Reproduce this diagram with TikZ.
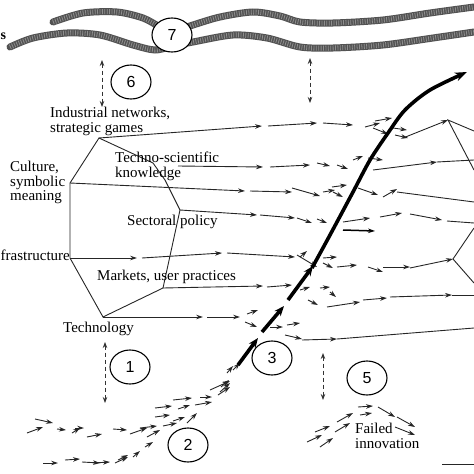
\documentclass[tikz,border=0pt]{standalone}
\usepackage{fontspec}
\setmainfont{Liberation Serif}
\newfontfamily\numfont{Liberation Sans}
\usetikzlibrary{arrows.meta,shapes.geometric}
\begin{document}
\begin{tikzpicture}[x=1pt,y=-1pt,
  tip/.style={-{Stealth[length=7pt,width=4.6pt]}},
  fl/.style={line width=0.9pt, black!85},
  band/.style={line width=7pt, black!68, line cap=round},
  bandtex/.style={line width=5pt, white, opacity=0.35, dash pattern=on 0.8pt off 1.6pt},
  num/.style={ellipse, draw, line width=1.1pt, fill=white, minimum width=40pt, minimum height=34pt, inner sep=0pt, font=\numfont\fontsize{16}{16}\selectfont},
  lbl/.style={inner sep=0pt, align=left, font=\fontsize{15}{14.6}\selectfont},
  dbl/.style={line width=0.9pt, black!80, dash pattern=on 4pt off 3pt, {Stealth[length=6pt,width=4.5pt]}-{Stealth[length=6pt,width=4.5pt]}},
  mainseg/.style={line width=3.6pt, -{Stealth[length=10pt,width=8pt]}},
  poly/.style={line width=0.9pt, black!85}
]
\useasboundingbox (0,0) rectangle (474,474);

% wavy bands
\foreach \st in {band,bandtex}{
\draw[\st] plot[smooth] coordinates {(53,22) (83,13) (117,12) (143,18) (160,27) (172,32)};
\draw[\st] plot[smooth] coordinates {(172,32) (193,25) (220,17) (253,12) (280,16) (300,22) (333,23) (383,20) (430,13) (474,7)};
\draw[\st] plot[smooth] coordinates {(10,47) (33,38) (67,33) (100,35) (133,45) (155,50) (172,46)};
\draw[\st] plot[smooth] coordinates {(172,46) (193,42) (233,35) (267,38) (300,47) (333,48) (383,45) (433,38) (474,32)};
}
\node[inner sep=0pt, anchor=base west, font=\bfseries\fontsize{14}{14}\selectfont] (s) at (0.5,39) {s};

% circles
\node[num] (n7) at (172,35) {7};
\node[num] (n6) at (131,82) {6};
\node[num] (n1) at (130,367) {1};
\node[num] (n2) at (188,445) {2};
\node[num] (n3) at (272,358) {3};
\node[num] (n5) at (367,378) {5};

% dashed double arrows
\coordinate (d1a) at (102,60); \coordinate (d1b) at (102,107);
\coordinate (d2a) at (310,58); \coordinate (d2b) at (310,103);
\coordinate (d3a) at (105,342); \coordinate (d3b) at (105,403);
\coordinate (d4a) at (323,353); \coordinate (d4b) at (323,400);
\draw[dbl] (d1a) -- (d1b);
\draw[dbl] (d2a) -- (d2b);
\draw[dbl] (d3a) -- (d3b);
\draw[dbl] (d4a) -- (d4b);

% left polygon
\coordinate (A) at (99,138);
\coordinate (B) at (70,183);
\coordinate (C) at (70,258);
\coordinate (D) at (103,317);
\coordinate (E) at (163,288);
\coordinate (F) at (180,210);
\coordinate (G1) at (165,180);
\coordinate (G2) at (153,163);
\draw[poly] (A) -- (B) -- (C) -- (D) -- (E) -- (F) -- (G1) -- (G2) -- cycle;

% right polygon (partly visible)
\coordinate (P1) at (448,120);
\coordinate (P2) at (453,259);
\draw[poly] (474,131) -- (P1) -- (474,170);
\draw[poly] (474,228) -- (P2) -- (474,283);

% labels
\node[lbl, anchor=north west] (t1) at (50,107) {Industrial networks,\\strategic games};
\node[lbl, anchor=north west] (t2) at (10,161) {Culture,\\symbolic\\meaning};
\node[lbl, anchor=north west] (t3) at (115,152) {Techno-scientific\\knowledge};
\node[lbl, anchor=north west] (t4) at (127,215) {Sectoral policy};
\node[lbl, anchor=north west] (t5) at (0.5,250) {frastructure};
\node[lbl, anchor=north west] (t6) at (97,270) {Markets, user practices};
\node[lbl, anchor=north west] (t7) at (63,322) {Technology};
\node[lbl, anchor=north west] (t8) at (355,423) {Failed\\innovation};

% flow lines: segments with arrowheads
\draw[fl,tip] (A) -- (262,126);
\foreach \a/\b/\c/\d in {
  268/126/317/123, 323/123/353/125, 365/127/380/123, 375/121/392/118,
  373/128/388/134, 393/128/407/130, 395/135/408/138,
  178/166/263/167, 270/167/310/165, 317/163/330/166, 337/165/348/169,
  353/160/363/156, 368/158/383/160, 373/170/437/162,
  250/191/292/192, 292/188/320/196, 323/192/335/190, 332/187/347/185,
  333/192/343/197, 358/188/378/195, 383/197/397/189,
  260/215/295/218, 297/218/312/223, 317/219/327/223, 343/222/370/218,
  380/217/402/213, 410/214/442/220,
  142/258/222/253, 227/253/295/257, 297/255/317/267, 300/257/307/251,
  323/258/337/257, 323/263/333/268, 337/267/357/265, 368/267/383/272,
  383/267/410/267,
  267/287/292/285, 300/290/310/287, 320/288/330/287, 330/292/336/297,
  308/300/318/305, 327/307/360/302, 363/300/387/298, 390/297/452/295,
  207/317/240/317, 247/314/258/310, 245/322/257/327, 270/327/283/327,
  287/325/300/323, 285/335/302/339, 302/340/337/339}
  \draw[fl,tip] (\a,\b) -- (\c,\d);
\draw[fl,tip] (403,138) -- (P1);
\draw[fl] (437,162) -- (474,160);
\draw[fl,tip] (B) -- (245,191);
\draw[fl] (397,192) -- (474,202);
\draw[fl,tip] (F) -- (257,215);
\draw[fl] (447,221) -- (474,223);
\draw[line width=1.5pt,tip] (343,230) -- (375,231);
\draw[fl,tip] (C) -- (137,258);
\draw[fl,tip] (410,268) -- (P2);
\draw[fl,tip] (E) -- (263,286);
\draw[fl] (452,295) -- (474,295);
\draw[fl,tip] (D) -- (203,317);
\draw[fl] (337,339) -- (474,328);
\draw[fl] (442,464) -- (474,464);

% bottom-left swarm of small arrows
\foreach \a/\b/\c/\d in {
  27/433/43/427, 35/419/53/423, 57/429/66/430, 72/433/80/428, 75/428/84/428,
  87/437/102/434, 113/429/127/430, 130/434/147/428, 140/428/157/426,
  147/437/160/430, 155/417/170/415, 155/408/172/406, 163/426/177/423,
  173/400/192/398, 173/421/185/417, 178/409/190/405, 187/423/197/413,
  195/405/212/402, 200/397/212/397, 210/390/230/381, 218/395/230/387,
  227/373/233/366, 233/370/240/363, 220/392/230/383, 221/387/229/380,
  43/463/58/463, 65/460/80/459, 82/462/100/463, 93/463/110/462,
  115/463/128/457, 118/460/128/455, 133/457/140/451, 145/447/153/442,
  % failed innovation
  307/442/322/435, 315/432/330/426, 320/447/333/438, 335/432/350/423,
  337/422/353/413, 358/407/373/406, 360/415/372/413, 378/407/395/417,
  397/417/415/427, 395/427/415/435}
  \draw[fl,tip] (\a,\b) -- (\c,\d);

% main thick trajectory
\draw[mainseg] (238,365) -- (258,338);
\draw[mainseg] (262,332) -- (284,306);
\draw[mainseg] (288,300) -- (313,266);
\draw[line width=3.6pt, -{Stealth[length=12pt,width=9pt]}] plot[smooth] coordinates {(312,268) (330,235) (353,192) (370,160) (388,133) (405,110) (430,90) (467,72)};
\end{tikzpicture}
\end{document}
